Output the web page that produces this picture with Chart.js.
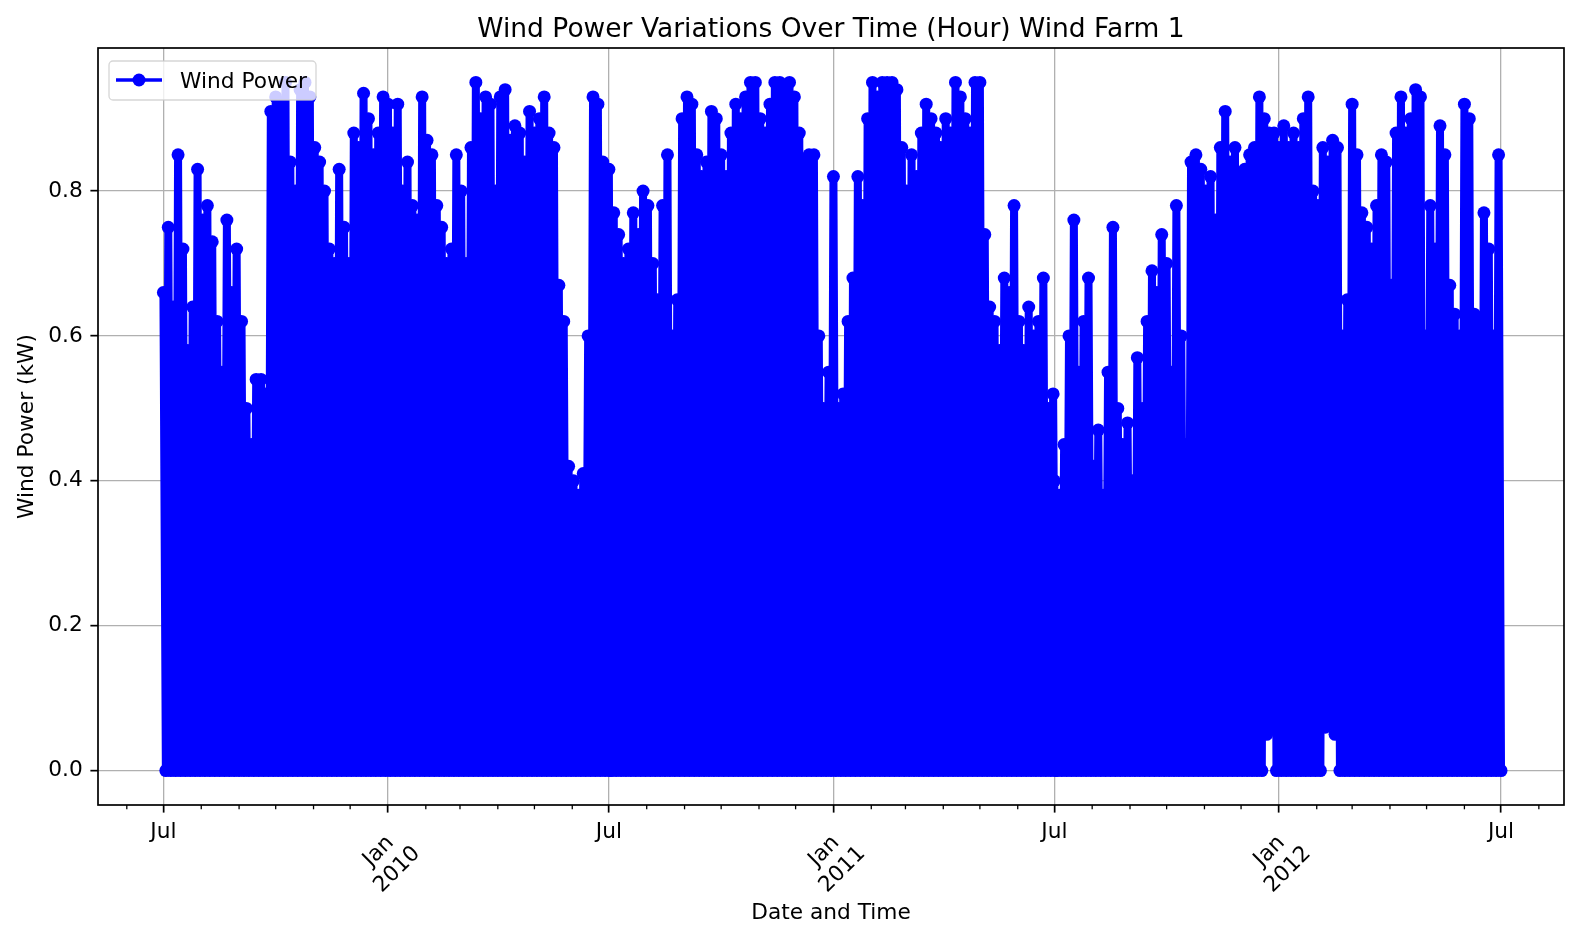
<!DOCTYPE html>
<html>
<head>
<meta charset="utf-8">
<title>Wind Power Variations Over Time (Hour) Wind Farm 1</title>
<script src="https://cdn.jsdelivr.net/npm/chart.js@4.4.1/dist/chart.umd.min.js"></script>
<style>
    html, body { margin: 0; padding: 0; background: #ffffff; }
    canvas { display: block; }
</style>
</head>
<body>
<canvas id="windChart" width="1576" height="938" style="width:1576px;height:938px"></canvas>
<script>

// ================= DATA =================
// hourly series: one gust peak and one calm low per 4-day step

const halfYearStarts = ["2009-07-01", "2010-01-01", "2010-07-01", "2011-01-01", "2011-07-01", "2012-01-01"];

const stepDays = 4;

const peaks2009H2 = [
    0.66, 0.75, 0.64, 0.85, 0.72, 0.58, 0.64, 0.83, 0.76, 0.78,
    0.73, 0.62, 0.55, 0.76, 0.66, 0.72, 0.62, 0.50, 0.45, 0.54,
    0.54, 0.52, 0.91, 0.93, 0.92, 0.95, 0.84, 0.80, 0.94, 0.95,
    0.93, 0.86, 0.84, 0.80, 0.72, 0.70, 0.83, 0.75, 0.70, 0.88,
    0.86, 0.935, 0.90, 0.85, 0.88, 0.93
];

const peaks2010H1 = [
    0.92, 0.88, 0.92, 0.80, 0.84, 0.78, 0.76, 0.93, 0.87, 0.85,
    0.78, 0.75, 0.70, 0.72, 0.85, 0.80, 0.70, 0.86, 0.95, 0.90,
    0.93, 0.92, 0.80, 0.93, 0.94, 0.87, 0.89, 0.88, 0.84, 0.91,
    0.88, 0.90, 0.93, 0.88, 0.86, 0.67, 0.62, 0.42, 0.40, 0.38,
    0.41, 0.60, 0.93, 0.92, 0.84, 0.83
];

const peaks2010H2 = [
    0.83, 0.77, 0.74, 0.70, 0.72, 0.77, 0.74, 0.80, 0.78, 0.70,
    0.65, 0.78, 0.85, 0.60, 0.65, 0.90, 0.93, 0.92, 0.85, 0.82,
    0.84, 0.91, 0.90, 0.85, 0.82, 0.88, 0.92, 0.90, 0.93, 0.95,
    0.95, 0.90, 0.88, 0.92, 0.95, 0.95, 0.94, 0.95, 0.93, 0.88,
    0.84, 0.85, 0.85, 0.60, 0.50, 0.55
];

const peaks2011H1 = [
    0.82, 0.50, 0.52, 0.62, 0.68, 0.82, 0.78, 0.90, 0.95, 0.93,
    0.95, 0.95, 0.95, 0.94, 0.86, 0.80, 0.85, 0.82, 0.88, 0.92,
    0.90, 0.88, 0.86, 0.90, 0.88, 0.95, 0.93, 0.90, 0.88, 0.95,
    0.95, 0.74, 0.64, 0.62, 0.58, 0.68, 0.66, 0.78, 0.62, 0.58,
    0.64, 0.60, 0.62, 0.68, 0.50, 0.52
];

const peaks2011H2 = [
    0.40, 0.38, 0.45, 0.60, 0.76, 0.55, 0.62, 0.68, 0.42, 0.47,
    0.38, 0.55, 0.75, 0.50, 0.45, 0.48, 0.40, 0.57, 0.50, 0.62,
    0.69, 0.66, 0.74, 0.70, 0.55, 0.78, 0.60, 0.45, 0.84, 0.85,
    0.83, 0.80, 0.82, 0.76, 0.86, 0.91, 0.84, 0.86, 0.82, 0.83,
    0.85, 0.86, 0.93, 0.90, 0.88, 0.88
];

const peaks2012H1 = [
    0.86, 0.89, 0.86, 0.88, 0.86, 0.90, 0.93, 0.80, 0.78, 0.86,
    0.84, 0.87, 0.86, 0.60, 0.65, 0.92, 0.85, 0.77, 0.75, 0.72,
    0.78, 0.85, 0.84, 0.67, 0.88, 0.93, 0.88, 0.90, 0.94, 0.93,
    0.60, 0.78, 0.72, 0.89, 0.85, 0.67, 0.63, 0.60, 0.92, 0.90,
    0.63, 0.62, 0.77, 0.72, 0.60, 0.85
];

const lows2009H2 = [
    0, 0, 0, 0, 0, 0, 0, 0, 0, 0,
    0, 0, 0, 0, 0, 0, 0, 0, 0, 0,
    0, 0, 0, 0, 0, 0, 0, 0, 0, 0,
    0, 0, 0, 0, 0, 0, 0, 0, 0, 0,
    0, 0, 0, 0, 0, 0
];

const lows2010H1 = [
    0, 0, 0, 0, 0, 0, 0, 0, 0, 0,
    0, 0, 0, 0, 0, 0, 0, 0, 0, 0,
    0, 0, 0, 0, 0, 0, 0, 0, 0, 0,
    0, 0, 0, 0, 0, 0, 0, 0, 0, 0,
    0, 0, 0, 0, 0, 0
];

const lows2010H2 = [
    0, 0, 0, 0, 0, 0, 0, 0, 0, 0,
    0, 0, 0, 0, 0, 0, 0, 0, 0, 0,
    0, 0, 0, 0, 0, 0, 0, 0, 0, 0,
    0, 0, 0, 0, 0, 0, 0, 0, 0, 0,
    0, 0, 0, 0, 0, 0
];

const lows2011H1 = [
    0, 0, 0, 0, 0, 0, 0, 0, 0, 0,
    0, 0, 0, 0, 0, 0, 0, 0, 0, 0,
    0, 0, 0, 0, 0, 0, 0, 0, 0, 0,
    0, 0, 0, 0, 0, 0, 0, 0, 0, 0,
    0, 0, 0, 0, 0, 0
];

const lows2011H2 = [
    0, 0, 0, 0, 0, 0, 0, 0, 0, 0,
    0, 0, 0, 0, 0, 0, 0, 0, 0, 0,
    0, 0, 0, 0, 0, 0, 0, 0, 0, 0,
    0, 0, 0, 0, 0, 0, 0, 0, 0, 0,
    0, 0, 0, 0.05, 0.06, 0
];

const lows2012H1 = [
    0, 0, 0, 0, 0, 0, 0, 0, 0, 0.06,
    0.07, 0.05, 0, 0, 0, 0, 0, 0, 0, 0,
    0, 0, 0, 0, 0, 0, 0, 0, 0, 0,
    0, 0, 0, 0, 0, 0, 0, 0, 0, 0,
    0, 0, 0, 0, 0, 0
];

const xTickDates = ["2009-07-01", "2010-01-01", "2010-07-01", "2011-01-01", "2011-07-01", "2012-01-01", "2012-07-01"];

const xTickLabels = ["Jul", "Jan\n2010", "Jul", "Jan\n2011", "Jul", "Jan\n2012", "Jul"];

const yTicks = [0.0, 0.2, 0.4, 0.6, 0.8];


// ================= BUILD POINTS =================

const DAY = 86400000;
const origin = Date.parse("2009-07-01");

function dayOf(iso) {
    return (Date.parse(iso) - origin) / DAY;
}

const peakSets = [peaks2009H2, peaks2010H1, peaks2010H2, peaks2011H1, peaks2011H2, peaks2012H1];
const lowSets = [lows2009H2, lows2010H1, lows2010H2, lows2011H1, lows2011H2, lows2012H1];

const windPoints = [];

halfYearStarts.forEach((start, h) => {
    const base = dayOf(start);
    peakSets[h].forEach((peak, i) => {
        windPoints.push({ x: base + i * stepDays, y: peak });
        windPoints.push({ x: base + i * stepDays + stepDays / 2, y: lowSets[h][i] });
    });
});

const xTickDays = xTickDates.map(dayOf);

// monthly minor ticks, like matplotlib's date locator
const minorDays = [];
for (let yr = 2009; yr <= 2012; yr++) {
    for (let m = 0; m < 12; m++) {
        if (m === 0 || m === 6) continue;
        minorDays.push((Date.UTC(yr, m, 1) - origin) / DAY);
    }
}


// ================= STYLE =================

const FONT = "DejaVu Sans";
const LABEL_PX = 21.7;
const TITLE_PX = 26.5;
const BLUE = "#0000ff";

Chart.defaults.font.family = FONT;


// ================= MATPLOTLIB LOOK (frame, labels, legend) =================

const mplLook = {

    id: "mplLook",

    afterDraw(chart) {

        const ctx = chart.ctx;
        const a = chart.chartArea;
        const xs = chart.scales.x;

        ctx.save();

        // spines
        ctx.strokeStyle = "#000";
        ctx.lineWidth = 1.7;
        ctx.strokeRect(a.left, a.top, a.right - a.left, a.bottom - a.top);

        // minor ticks
        ctx.lineWidth = 1.3;
        minorDays.forEach(d => {
            if (d < xs.min || d > xs.max) return;
            const px = xs.getPixelForValue(d);
            ctx.beginPath();
            ctx.moveTo(px, a.bottom);
            ctx.lineTo(px, a.bottom + 4.3);
            ctx.stroke();
        });

        // x tick labels
        ctx.fillStyle = "#000";
        ctx.font = LABEL_PX + "px '" + FONT + "'";
        ctx.textAlign = "center";

        xTickDays.forEach((d, i) => {
            const px = xs.getPixelForValue(d);
            const lines = xTickLabels[i].split("\n");
            if (lines.length === 1) {
                ctx.textBaseline = "alphabetic";
                ctx.fillText(lines[0], px, a.bottom + 33);
                return;
            }
            const lineH = 26;
            const w = Math.max(...lines.map(t => ctx.measureText(t).width));
            const ext = (w + 51) * Math.SQRT1_2;
            ctx.save();
            ctx.translate(px, a.bottom + 15 + ext / 2 + 3);
            ctx.rotate(-Math.PI / 4);
            ctx.textBaseline = "middle";
            lines.forEach((t, k) => {
                ctx.fillText(t, 0, (k - (lines.length - 1) / 2) * lineH);
            });
            ctx.restore();
        });

        // axis titles
        ctx.textBaseline = "alphabetic";
        ctx.fillText("Date and Time", (a.left + a.right) / 2, 919);

        ctx.save();
        ctx.translate(33, (a.top + a.bottom) / 2);
        ctx.rotate(-Math.PI / 2);
        ctx.fillText("Wind Power (kW)", 0, 0);
        ctx.restore();

        // chart title
        ctx.font = TITLE_PX + "px '" + FONT + "'";
        ctx.fillText("Wind Power Variations Over Time (Hour) Wind Farm 1", (a.left + a.right) / 2, 37);

        // legend
        ctx.beginPath();
        ctx.roundRect(109, 61, 207, 39, 4);
        ctx.fillStyle = "rgba(255, 255, 255, 0.8)";
        ctx.fill();
        ctx.strokeStyle = "rgba(204, 204, 204, 0.8)";
        ctx.lineWidth = 1.3;
        ctx.stroke();

        ctx.strokeStyle = BLUE;
        ctx.lineWidth = 3.3;
        ctx.beginPath();
        ctx.moveTo(116, 80);
        ctx.lineTo(162, 80);
        ctx.stroke();

        ctx.fillStyle = BLUE;
        ctx.beginPath();
        ctx.arc(139, 80, 6.5, 0, Math.PI * 2);
        ctx.fill();

        ctx.fillStyle = "#000";
        ctx.font = LABEL_PX + "px '" + FONT + "'";
        ctx.textAlign = "left";
        ctx.fillText("Wind Power", 180, 88);

        ctx.restore();

    }

};


// ================= LINE CHART =================

const windChart = document.getElementById("windChart");

new Chart(windChart, {

    type: "line",

    data: {

        datasets: [{

            label: "Wind Power",

            data: windPoints,

            borderColor: BLUE,
            backgroundColor: BLUE,
            borderWidth: 8,
            borderJoinStyle: "round",
            borderCapStyle: "round",

            pointRadius: 6.5,
            pointHoverRadius: 6.5,
            pointBorderWidth: 0,
            pointBackgroundColor: BLUE,

            tension: 0,
            fill: false

        }]

    },

    options: {

        responsive: false,
        animation: false,
        devicePixelRatio: 1,
        events: [],

        layout: {
            padding: { top: 48, right: 12, left: 0, bottom: 0 }
        },

        plugins: {
            legend: { display: false },
            tooltip: { enabled: false },
            title: { display: false }
        },

        scales: {

            x: {
                type: "linear",
                min: -53.6,
                max: 1147.6,
                afterBuildTicks: scale => {
                    scale.ticks = xTickDays.map(v => ({ value: v }));
                },
                afterFit: scale => {
                    scale.height = 133;
                },
                ticks: { display: false },
                grid: {
                    color: "#b0b0b0",
                    lineWidth: 1.3,
                    tickLength: 7.6,
                    tickColor: "#000",
                    tickWidth: 1.7
                },
                border: { display: false }
            },

            y: {
                type: "linear",
                min: -0.0475,
                max: 0.9975,
                afterBuildTicks: scale => {
                    scale.ticks = yTicks.map(v => ({ value: v }));
                },
                afterFit: scale => {
                    scale.width = 98;
                },
                ticks: {
                    color: "#000",
                    padding: 7.6,
                    font: { family: FONT, size: LABEL_PX },
                    callback: v => v.toFixed(1)
                },
                grid: {
                    color: "#b0b0b0",
                    lineWidth: 1.3,
                    tickLength: 7.6,
                    tickColor: "#000",
                    tickWidth: 1.7
                },
                border: { display: false }
            }

        }

    },

    plugins: [mplLook]

});

</script>
</body>
</html>
